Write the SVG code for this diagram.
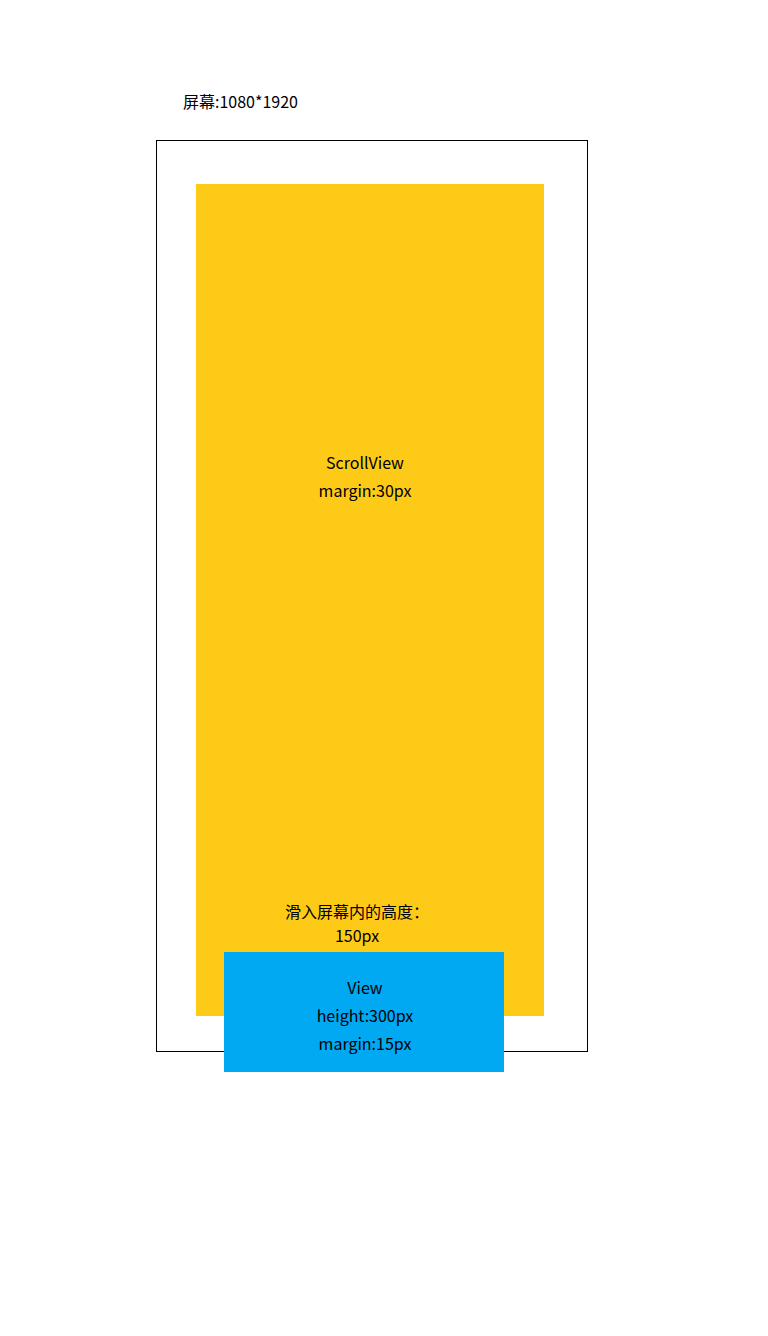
<svg xmlns="http://www.w3.org/2000/svg" width="768" height="1336" viewBox="0 0 768 1336">
<style>
text { font-family: "Noto Sans CJK SC", "Noto Sans", sans-serif; font-size: 16px; fill: #000; }
.c { text-anchor: middle; }
</style>
<rect width="768" height="1336" fill="#fff"/>
<g id="title"><text x="183" y="108">屏幕:1080*1920</text></g>
<g id="screen"><rect x="156.5" y="140.5" width="431" height="911" fill="none" stroke="#000" stroke-width="1"/></g>
<g id="scrollview">
<rect x="196" y="184" width="348" height="832" fill="#FECA18"/>
<text class="c" x="365" y="469">ScrollView</text>
<text class="c" x="365" y="497">margin:30px</text>
</g>
<g id="label"><text class="c" x="357" y="918">滑入屏幕内的高度：</text><text class="c" x="357" y="942">150px</text></g>
<g id="view">
<rect x="224" y="952" width="280" height="120" fill="#00A9F2"/>
<text class="c" x="365" y="994">View</text>
<text class="c" x="365" y="1022">height:300px</text>
<text class="c" x="365" y="1050">margin:15px</text>
</g>
<g id="connectors"></g>
</svg>
